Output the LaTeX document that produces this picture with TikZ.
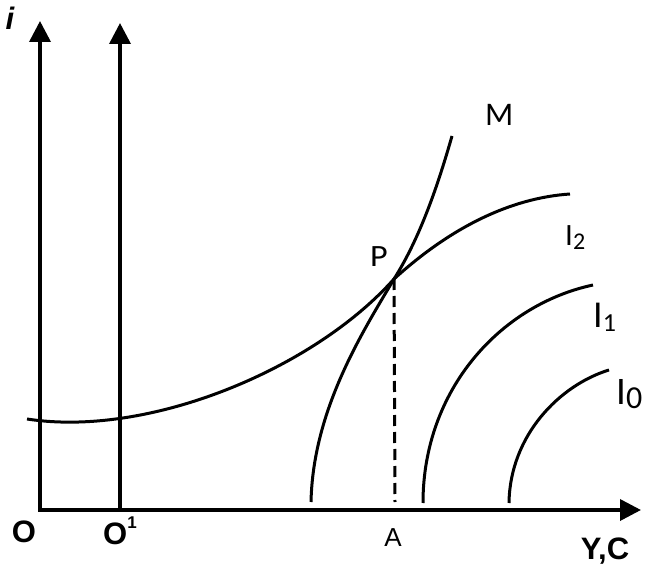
\documentclass[tikz,border=0pt]{standalone}
\usepackage{fontspec}
\setmainfont{Liberation Sans}
\newfontfamily\calibrifont{Carlito}
\usetikzlibrary{arrows.meta}
% #1 size of I, #2 size of subscript, #3 digit
\newcommand{\subI}[3]{{\fontsize{#1}{#1}\selectfont I}\raisebox{-4pt}{\fontsize{#2}{#2}\selectfont #3}}
\begin{document}
\begin{tikzpicture}[x=1pt,y=-1pt,
  axis/.style={line width=3.6pt},
  curve/.style={line width=3pt},
  dashline/.style={line width=3pt, dash pattern=on 11pt off 6pt},
  lab/.style={inner sep=0pt, font=\calibrifont},
  blab/.style={inner sep=0pt, font=\bfseries\fontsize{31}{31}\selectfont},
  alab/.style={inner sep=0pt, font=\fontsize{26}{26}\selectfont}]
\useasboundingbox (0,0) rectangle (646,575);
% axes
\coordinate (O) at (40,510);
\coordinate (ytip) at (40,21);
\coordinate (xtip) at (641,510);
\coordinate (O1b) at (120,508);
\coordinate (O1tip) at (120,23);
\draw[axis, miter limit=10, {Triangle[width=21pt,length=21pt]}-{Triangle[width=21pt,length=21pt]}] (ytip) -- (O) -- (xtip);
\draw[axis, -{Triangle[width=21pt,length=21pt]}] (O1b) -- (O1tip);
% curves
\coordinate (P) at (394,279);
\draw[curve] (27,419) .. controls (150,438) and (315,368) .. (P)
  .. controls (450,228) and (510,198) .. (570,194);
\draw[curve] (311,502) .. controls (313,410) and (362,333) .. (P)
  .. controls (420,238) and (438,185) .. (452,136);
\draw[curve] (423,503) .. controls (423,390) and (500,305) .. (593,285);
\draw[curve] (509,503) .. controls (510,435) and (560,385) .. (609,370);
\coordinate (Ab) at (395,502);
\draw[dashline] (P) -- (Ab);
% labels
\node[blab, font=\bfseries\itshape\fontsize{31}{31}\selectfont] (ilab) at (10,18) {i};
\node[blab] (Olab) at (24,532) {O};
\node[blab, anchor=base west] (O1lab) at (103,544) {O\raisebox{16pt}{\fontsize{17}{17}\selectfont 1}};
\node[alab] (Alab) at (393,538) {A};
\node[blab] (YClab) at (605,551) {Y,C};
\node[lab, anchor=base west, font=\calibrifont\fontsize{33}{33}\selectfont] (Mlab) at (485,126) {M};
\node[lab, anchor=base west, font=\calibrifont\fontsize{31}{31}\selectfont, xscale=1.1] (Plab) at (370,266) {P};
\node[lab, anchor=base west] (I2lab) at (565,246) {\subI{31}{24}{2}};
\node[lab, anchor=base west] (I1lab) at (593,327) {\subI{38}{26}{1}};
\node[lab, anchor=base west] (I0lab) at (616,404) {\subI{39}{32}{0}};
\end{tikzpicture}
\end{document}
